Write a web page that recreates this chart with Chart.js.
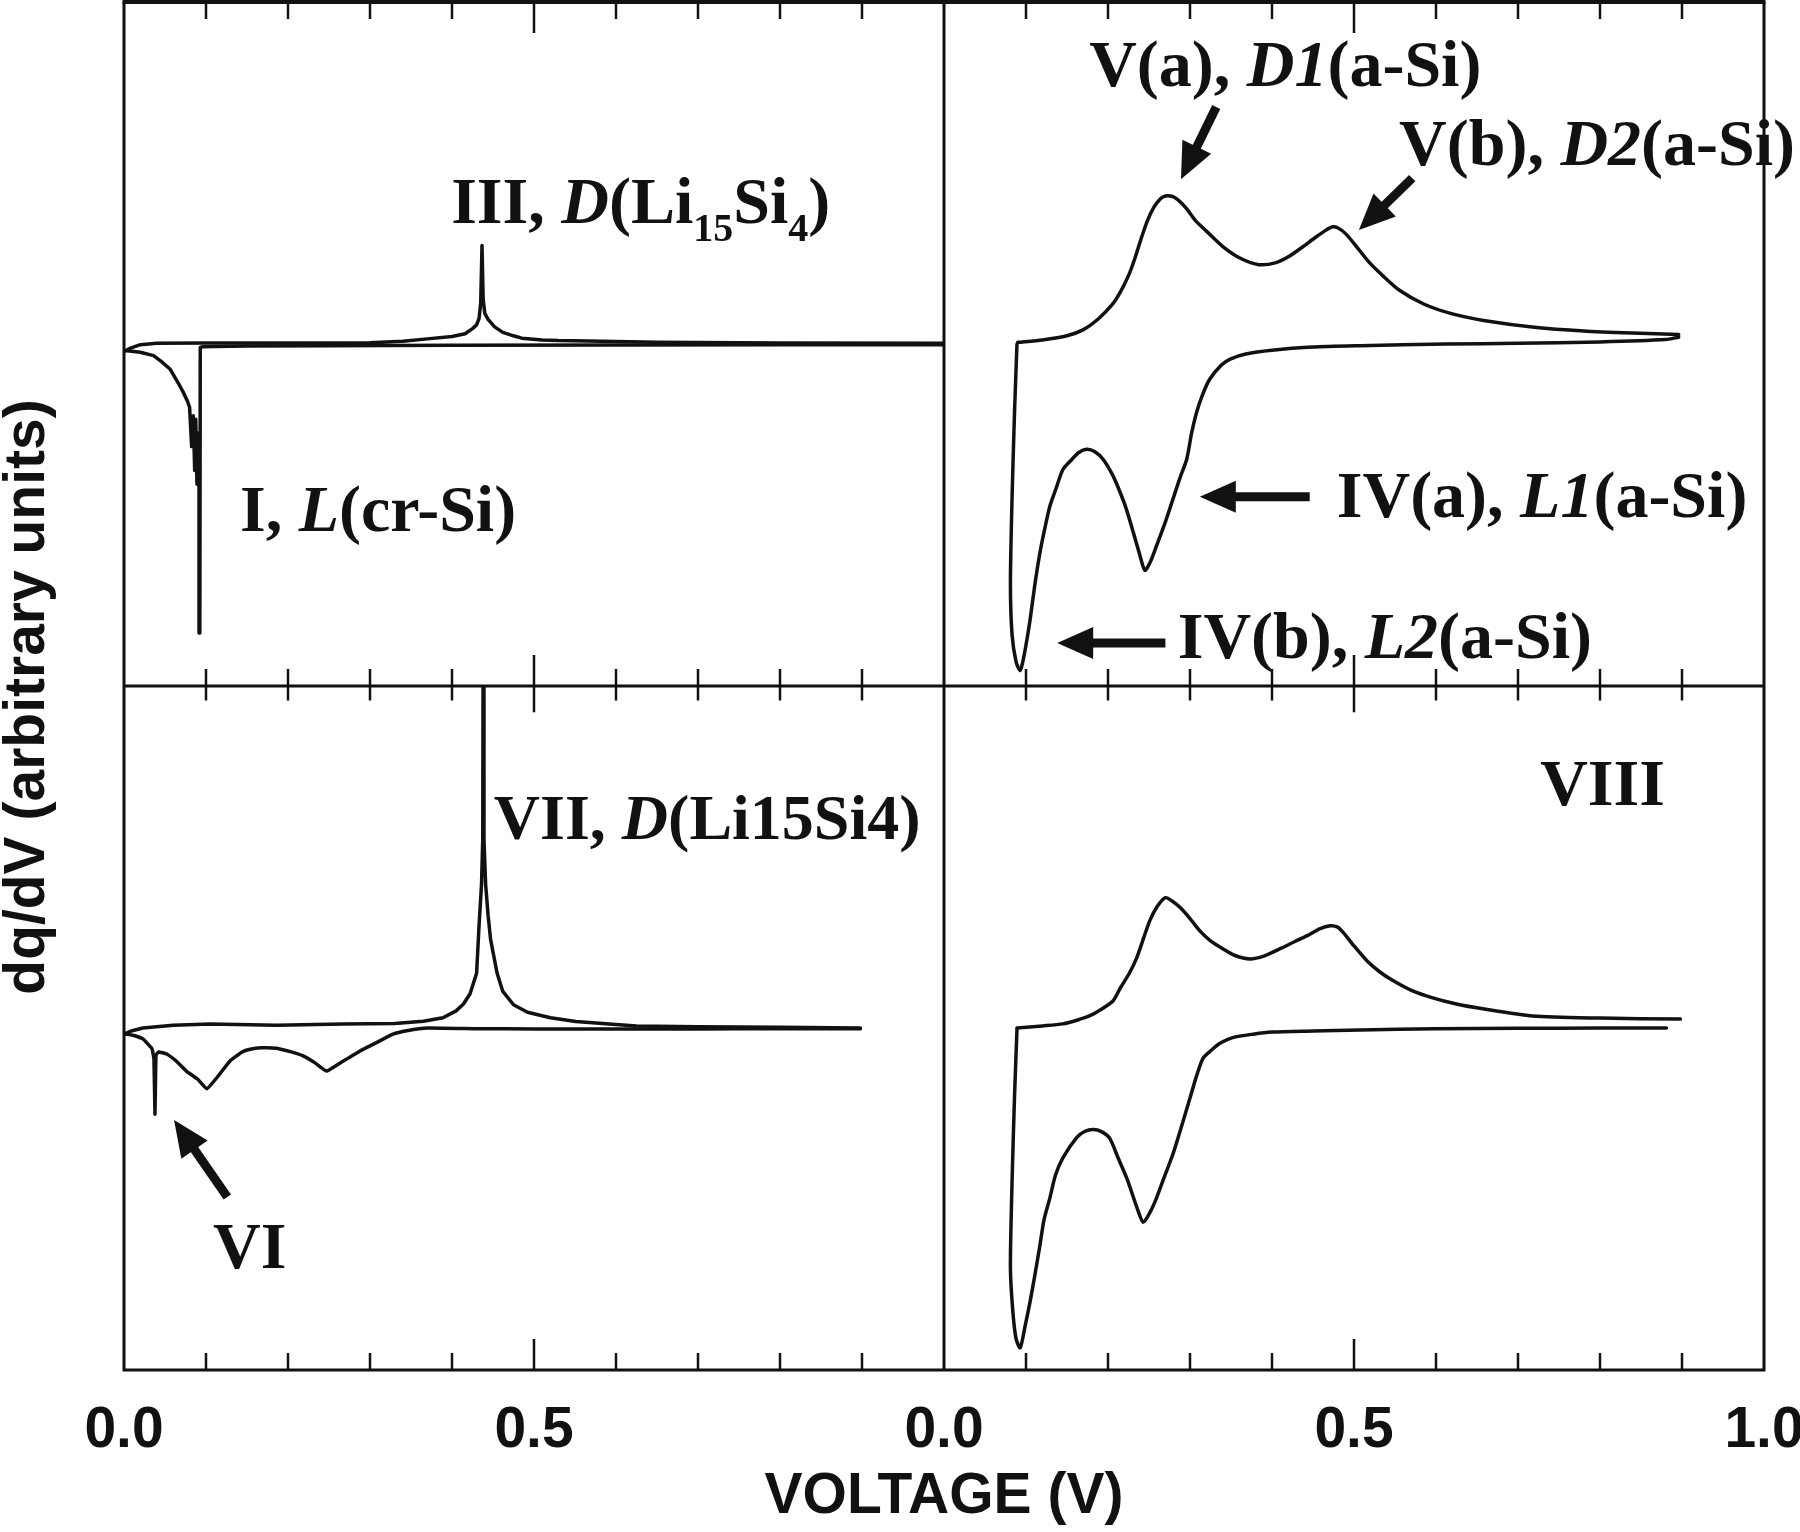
<!DOCTYPE html>
<html>
<head>
<meta charset="utf-8">
<script src="https://cdn.jsdelivr.net/npm/chart.js@4.4.1/dist/chart.umd.min.js"></script>
<style>
  html, body { margin: 0; padding: 0; background: #ffffff; }
  canvas { display: block; }
</style>
</head>
<body>
<canvas id="c" width="1800" height="1532"></canvas>
<script>
// ---------------- DATA (voltage V, dq/dV in arbitrary units) ----------------
// Top-left panel: first cycle, crystalline Si
const tlChargeV = [0.000, 0.008, 0.020, 0.040, 0.100, 0.200, 0.300, 0.340, 0.370, 0.400, 0.416, 0.425, 0.430, 0.433, 0.435, 0.4366, 0.438, 0.440, 0.444, 0.452, 0.462, 0.475, 0.485, 0.510, 0.530, 0.600, 0.650, 0.800, 1.000];
const tlChargeQ = [-0.022, -0.012, -0.002, 0.002, 0.003, 0.003, 0.004, 0.008, 0.015, 0.022, 0.030, 0.045, 0.056, 0.075, 0.120, 0.288, 0.130, 0.090, 0.072, 0.050, 0.034, 0.024, 0.017, 0.012, 0.010, 0.007, 0.005, 0.003, 0.002];
const tlDischargeV = [1.000, 0.800, 0.600, 0.400, 0.250, 0.150, 0.110, 0.096, 0.0930, 0.0925, 0.0915, 0.0900, 0.0890, 0.0875, 0.0862, 0.0845, 0.0825, 0.0800, 0.0770, 0.0720, 0.0680, 0.0560, 0.0450, 0.0360, 0.0200, 0.0040, 0.0000];
const tlDischargeQ = [-0.002, -0.002, -0.003, -0.004, -0.005, -0.006, -0.007, -0.008, -0.010, -0.845, -0.420, -0.260, -0.410, -0.220, -0.370, -0.210, -0.300, -0.185, -0.165, -0.140, -0.122, -0.073, -0.050, -0.034, -0.024, -0.020, -0.020];

// Top-right panel: amorphous Si
const trChargeV = [0.090, 0.120, 0.150, 0.170, 0.188, 0.205, 0.215, 0.225, 0.232, 0.240, 0.248, 0.256, 0.264, 0.270, 0.278, 0.285, 0.295, 0.307, 0.320, 0.340, 0.362, 0.384, 0.405, 0.422, 0.438, 0.452, 0.464, 0.473, 0.480, 0.490, 0.503, 0.518, 0.535, 0.555, 0.585, 0.620, 0.660, 0.720, 0.780, 0.840, 0.896];
const trChargeQ = [0.005, 0.012, 0.024, 0.042, 0.073, 0.115, 0.152, 0.200, 0.245, 0.305, 0.360, 0.400, 0.425, 0.433, 0.432, 0.422, 0.398, 0.360, 0.330, 0.285, 0.250, 0.232, 0.238, 0.258, 0.285, 0.310, 0.330, 0.342, 0.340, 0.322, 0.285, 0.240, 0.200, 0.158, 0.117, 0.088, 0.068, 0.049, 0.038, 0.032, 0.028];
const trDischargeV = [0.896, 0.880, 0.800, 0.700, 0.612, 0.507, 0.449, 0.400, 0.368, 0.349, 0.338, 0.324, 0.315, 0.308, 0.302, 0.296, 0.288, 0.279, 0.270, 0.259, 0.252, 0.245, 0.238, 0.231, 0.222, 0.215, 0.206, 0.194, 0.184, 0.174, 0.164, 0.155, 0.145, 0.137, 0.129, 0.122, 0.117, 0.111, 0.105, 0.100, 0.096, 0.093, 0.088, 0.083, 0.081, 0.083, 0.086, 0.089];
const trDischargeQ = [0.020, 0.013, 0.006, 0.002, 0.000, -0.005, -0.009, -0.018, -0.029, -0.044, -0.062, -0.103, -0.150, -0.200, -0.260, -0.337, -0.390, -0.455, -0.520, -0.591, -0.635, -0.662, -0.610, -0.552, -0.480, -0.435, -0.385, -0.337, -0.315, -0.308, -0.318, -0.340, -0.367, -0.420, -0.475, -0.550, -0.610, -0.700, -0.806, -0.880, -0.930, -0.955, -0.930, -0.850, -0.700, -0.450, -0.200, 0.000];

// Bottom-left panel: crystalline Si, later cycle
const blChargeV = [0.000, 0.010, 0.023, 0.060, 0.105, 0.186, 0.267, 0.330, 0.365, 0.389, 0.405, 0.414, 0.422, 0.430, 0.433, 0.436, 0.4375, 0.4382, 0.4390, 0.441, 0.444, 0.447, 0.455, 0.462, 0.475, 0.492, 0.520, 0.551, 0.600, 0.625, 0.700, 0.800, 0.898];
const blChargeQ = [-0.018, -0.008, 0.000, 0.008, 0.012, 0.008, 0.012, 0.013, 0.020, 0.030, 0.050, 0.070, 0.100, 0.160, 0.300, 0.420, 0.550, 1.400, 0.550, 0.420, 0.330, 0.260, 0.160, 0.107, 0.068, 0.046, 0.030, 0.019, 0.010, 0.006, 0.004, 0.002, 0.000];
const blDischargeV = [0.898, 0.800, 0.700, 0.600, 0.500, 0.430, 0.370, 0.345, 0.328, 0.310, 0.288, 0.265, 0.247, 0.233, 0.219, 0.204, 0.186, 0.167, 0.154, 0.144, 0.129, 0.115, 0.101, 0.090, 0.076, 0.063, 0.052, 0.042, 0.0390, 0.0378, 0.0365, 0.034, 0.023, 0.012, 0.004, 0.000];
const blDischargeQ = [-0.002, -0.002, -0.003, -0.003, -0.003, -0.002, 0.000, -0.008, -0.018, -0.040, -0.067, -0.100, -0.126, -0.102, -0.082, -0.070, -0.059, -0.058, -0.062, -0.070, -0.097, -0.140, -0.178, -0.150, -0.126, -0.095, -0.076, -0.070, -0.080, -0.252, -0.090, -0.060, -0.032, -0.022, -0.018, -0.018];

// Bottom-right panel: amorphous Si, later cycle
const brChargeV = [0.089, 0.120, 0.145, 0.165, 0.178, 0.190, 0.206, 0.215, 0.226, 0.235, 0.243, 0.251, 0.260, 0.270, 0.279, 0.288, 0.300, 0.312, 0.325, 0.340, 0.355, 0.373, 0.390, 0.410, 0.428, 0.443, 0.458, 0.471, 0.480, 0.487, 0.500, 0.516, 0.532, 0.548, 0.570, 0.596, 0.625, 0.657, 0.718, 0.800, 0.898];
const brChargeQ = [0.000, 0.006, 0.012, 0.025, 0.036, 0.052, 0.079, 0.117, 0.160, 0.205, 0.260, 0.314, 0.355, 0.381, 0.370, 0.352, 0.320, 0.284, 0.255, 0.232, 0.212, 0.202, 0.210, 0.232, 0.253, 0.270, 0.290, 0.299, 0.295, 0.279, 0.240, 0.196, 0.163, 0.138, 0.110, 0.088, 0.070, 0.056, 0.035, 0.029, 0.026];
const brDischargeV = [0.881, 0.800, 0.700, 0.600, 0.507, 0.450, 0.400, 0.377, 0.352, 0.337, 0.326, 0.316, 0.308, 0.300, 0.290, 0.279, 0.268, 0.259, 0.251, 0.243, 0.236, 0.223, 0.212, 0.202, 0.192, 0.182, 0.172, 0.162, 0.145, 0.136, 0.129, 0.122, 0.117, 0.111, 0.105, 0.099, 0.093, 0.088, 0.084, 0.081, 0.083, 0.086, 0.089];
const brDischargeQ = [0.000, 0.000, -0.001, -0.002, -0.006, -0.009, -0.012, -0.018, -0.028, -0.044, -0.065, -0.088, -0.140, -0.205, -0.285, -0.370, -0.440, -0.498, -0.540, -0.568, -0.530, -0.440, -0.378, -0.322, -0.303, -0.297, -0.302, -0.320, -0.380, -0.430, -0.498, -0.560, -0.635, -0.720, -0.800, -0.870, -0.935, -0.910, -0.830, -0.700, -0.450, -0.200, -0.004];

// Axis ticks
const leftTickLabels = [0.0, 0.5];
const rightTickLabels = [0.0, 0.5, 1.0];
const minorTicks = [0.1, 0.2, 0.3, 0.4, 0.6, 0.7, 0.8, 0.9];
const majorTicks = [0.5];

// ---------------- STYLE / ANNOTATIONS ----------------
const INK = '#111111';
const SANS = '"Liberation Sans", Arial, sans-serif';
const SERIF = '"Liberation Serif", "Times New Roman", serif';
const Y_TITLE = 'dq/dV (arbitrary units)';

const annotations = [
  {panel: 'TL', v: 0.399, q: 0.354, size: 66, parts: [['III, ', 'b'], ['D', 'bi'], ['(Li', 'b'], ['15', 's'], ['Si', 'b'], ['4', 's'], [')', 'b']]},
  {panel: 'TL', v: 0.1415, q: -0.547, size: 66, parts: [['I, ', 'b'], ['L', 'bi'], ['(cr-Si)', 'b']]},
  {panel: 'TR', v: 0.177, q: 0.754, size: 66, parts: [['V(a), ', 'b'], ['D1', 'bi'], ['(a-Si)', 'b']]},
  {panel: 'TR', v: 0.555, q: 0.523, size: 66, parts: [['V(b), ', 'b'], ['D2', 'bi'], ['(a-Si)', 'b']]},
  {panel: 'TR', v: 0.479, q: -0.506, size: 66, parts: [['IV(a), ', 'b'], ['L1', 'bi'], ['(a-Si)', 'b']]},
  {panel: 'TR', v: 0.285, q: -0.918, size: 66, parts: [['IV(b), ', 'b'], ['L2', 'bi'], ['(a-Si)', 'b']]},
  {panel: 'BL', v: 0.451, q: 0.553, size: 64, parts: [['VII, ', 'b'], ['D', 'bi'], ['(Li15Si4)', 'b']]},
  {panel: 'BL', v: 0.1085, q: -0.702, size: 66, parts: [['VI', 'b']]},
  {panel: 'BR', v: 0.727, q: 0.652, size: 66, parts: [['VIII', 'b']]}
];

const arrows = [
  {panel: 'TR', from: [0.332, 0.693], to: [0.289, 0.482]},
  {panel: 'TR', from: [0.571, 0.485], to: [0.506, 0.333]},
  {panel: 'TR', from: [0.446, -0.447], to: [0.312, -0.447]},
  {panel: 'TR', from: [0.270, -0.874], to: [0.138, -0.874]},
  {panel: 'BL', from: [0.126, -0.494], to: [0.061, -0.269]}
];

const panelAxes = {TL: ['xL', 'yT'], TR: ['xR', 'yT'], BL: ['xL', 'yB'], BR: ['xR', 'yB']};

// ---------------- BUILD ----------------
const pts = (vs, qs) => vs.map((v, i) => ({x: v, y: qs[i]}));
function series(vs, qs, panel, tension) {
  const [xa, ya] = panelAxes[panel];
  return {
    data: pts(vs, qs), xAxisID: xa, yAxisID: ya, showLine: true,
    borderColor: INK, borderWidth: 3.5, pointRadius: 0, tension: tension,
    fill: false, borderJoinStyle: 'round', borderCapStyle: 'round'
  };
}

const datasets = [
  series(tlChargeV, tlChargeQ, 'TL', 0),
  series(tlDischargeV, tlDischargeQ, 'TL', 0),
  series(trChargeV, trChargeQ, 'TR', 0.25),
  series(trDischargeV, trDischargeQ, 'TR', 0.25),
  series(blChargeV, blChargeQ, 'BL', 0),
  series(blDischargeV, blDischargeQ, 'BL', 0.1),
  series(brChargeV, brChargeQ, 'BR', 0.25),
  series(brDischargeV, brDischargeQ, 'BR', 0.25)
];

const tickFont = {family: SANS, size: 57, weight: 'bold'};
function xScale(labels) {
  return {
    type: 'linear', position: 'bottom', stack: 'cols', min: 0, max: 1,
    grid: {display: false, drawTicks: false}, border: {display: false},
    ticks: {autoSkip: false, maxRotation: 0, minRotation: 0, padding: 27, color: INK, font: tickFont,
      callback: v => Number(v).toFixed(1)},
    afterBuildTicks: s => { s.ticks = labels.map(v => ({value: v})); },
    afterFit: s => { s.height = 99; s.paddingLeft = 0; s.paddingRight = 0; }
  };
}
function yScale(w) {
  return {type: 'linear', position: 'left', stack: 'rows', min: -1, max: 1, display: false, weight: w};
}

function drawRich(ctx, x, y, parts, size) {
  let cx = x;
  for (const [text, style] of parts) {
    let dy = 0;
    if (style === 'bi') ctx.font = `italic bold ${size}px ${SERIF}`;
    else if (style === 's') { ctx.font = `bold ${Math.round(size * 0.6)}px ${SERIF}`; dy = size * 0.28; }
    else ctx.font = `bold ${size}px ${SERIF}`;
    ctx.fillText(text, cx, y + dy);
    cx += ctx.measureText(text).width;
  }
}

function drawArrow(ctx, x1, y1, x2, y2) {
  const ang = Math.atan2(y2 - y1, x2 - x1);
  const hl = 36, hw = 16;
  const bx = x2 - hl * Math.cos(ang), by = y2 - hl * Math.sin(ang);
  ctx.lineWidth = 9;
  ctx.beginPath(); ctx.moveTo(x1, y1); ctx.lineTo(bx + 2 * Math.cos(ang), by + 2 * Math.sin(ang)); ctx.stroke();
  ctx.beginPath();
  ctx.moveTo(x2, y2);
  ctx.lineTo(bx + hw * Math.sin(ang), by - hw * Math.cos(ang));
  ctx.lineTo(bx - hw * Math.sin(ang), by + hw * Math.cos(ang));
  ctx.closePath(); ctx.fill();
}

const framePlugin = {
  id: 'panelFrame',
  afterLayout(chart) {
    // the y-axis title sits slightly below the middle of the plotting area
    const box = chart.boxes.find(b => b.options && b.options.text === Y_TITLE);
    if (box) { box.top += 11; box.bottom += 11; }
  },
  afterDatasetsDraw(chart) {
    const {ctx} = chart;
    const {xL, xR, yT, yB} = chart.scales;
    const L = xL.left, M = xL.right, R = xR.right, T = yT.top, H = yT.bottom, B = yB.bottom;
    ctx.save();
    ctx.strokeStyle = INK;
    ctx.lineCap = 'butt';
    ctx.lineWidth = 3;
    ctx.beginPath();
    ctx.moveTo(L, T); ctx.lineTo(L, B);
    ctx.moveTo(M, T); ctx.lineTo(M, B);
    ctx.moveTo(R, T); ctx.lineTo(R, B);
    ctx.moveTo(L, H); ctx.lineTo(R, H);
    ctx.moveTo(L - 1.5, B); ctx.lineTo(R + 1.5, B);
    ctx.stroke();
    ctx.lineWidth = 4;
    ctx.beginPath(); ctx.moveTo(L - 1.5, T); ctx.lineTo(R + 1.5, T); ctx.stroke();
    ctx.lineWidth = 2.5;
    ctx.beginPath();
    for (const sc of [xL, xR]) {
      for (const v of minorTicks.concat(majorTicks)) {
        const x = sc.getPixelForValue(v);
        const len = majorTicks.includes(v) ? 31 : 17;
        ctx.moveTo(x, T); ctx.lineTo(x, T + len);
        ctx.moveTo(x, H - len); ctx.lineTo(x, H + len * 0.85);
        ctx.moveTo(x, B - len); ctx.lineTo(x, B);
      }
    }
    ctx.stroke();
    ctx.restore();
  },
  afterDraw(chart) {
    const {ctx} = chart;
    ctx.save();
    ctx.fillStyle = INK;
    ctx.strokeStyle = INK;
    ctx.textAlign = 'left';
    ctx.textBaseline = 'alphabetic';
    for (const a of annotations) {
      const [xa, ya] = panelAxes[a.panel];
      const x = chart.scales[xa].getPixelForValue(a.v);
      const y = chart.scales[ya].getPixelForValue(a.q);
      drawRich(ctx, x, y, a.parts, a.size);
    }
    for (const a of arrows) {
      const [xa, ya] = panelAxes[a.panel];
      const sx = chart.scales[xa], sy = chart.scales[ya];
      drawArrow(ctx, sx.getPixelForValue(a.from[0]), sy.getPixelForValue(a.from[1]),
                     sx.getPixelForValue(a.to[0]), sy.getPixelForValue(a.to[1]));
    }
    ctx.restore();
  }
};

new Chart(document.getElementById('c'), {
  type: 'scatter',
  data: {datasets},
  plugins: [framePlugin],
  options: {
    responsive: false,
    animation: false,
    devicePixelRatio: 1,
    events: [],
    layout: {padding: {top: 2, left: 0, right: 36, bottom: 0}},
    scales: {
      xL: xScale(leftTickLabels),
      xR: xScale(rightTickLabels),
      yT: yScale(1),
      yB: yScale(0)
    },
    plugins: {
      legend: {display: false},
      tooltip: {enabled: false},
      title: {
        display: true, text: 'VOLTAGE (V)', position: 'bottom', fullSize: false,
        color: INK, font: {family: SANS, size: 57, weight: 'bold', lineHeight: 1},
        padding: {top: 0, bottom: 6}
      },
      subtitle: {
        display: true, text: Y_TITLE, position: 'left', fullSize: false,
        color: INK, font: {family: SANS, size: 57, weight: 'bold', lineHeight: 1},
        padding: {top: 0, bottom: 67}
      }
    }
  }
});
</script>
</body>
</html>
